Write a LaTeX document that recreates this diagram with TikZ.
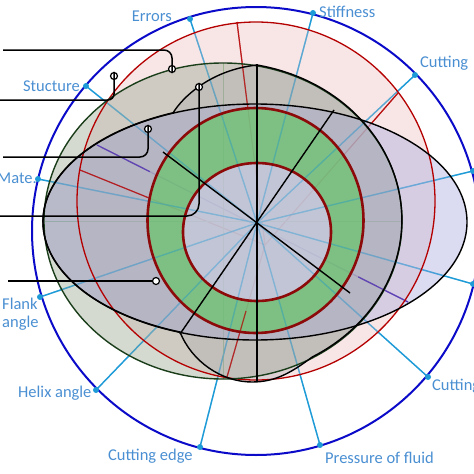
\documentclass[tikz,border=0pt]{standalone}
\usepackage{fontspec}
\usetikzlibrary{calc}
\setmainfont{Carlito}
\definecolor{spokeblue}{RGB}{30,155,215}
\definecolor{lblblue}{RGB}{74,143,210}
\definecolor{circblue}{RGB}{10,10,200}
\definecolor{redline}{RGB}{180,0,0}
\definecolor{thickred}{RGB}{140,10,10}
\definecolor{dkgreen}{RGB}{26,61,26}
\definecolor{pinkfill}{RGB}{240,200,200}
\definecolor{greyfill}{RGB}{160,172,150}
\definecolor{lavfill}{RGB}{176,176,224}
\definecolor{tallfill}{RGB}{160,160,170}
\definecolor{annfill}{RGB}{90,200,90}
\definecolor{discfill}{RGB}{205,212,230}
\definecolor{purp}{RGB}{80,48,176}
\definecolor{axgreen}{RGB}{90,180,95}
\begin{document}
\begin{tikzpicture}[x=1pt,y=-1pt,
  spoke/.style={draw=spokeblue, line width=1.4pt},
  dot/.style={circle, fill=spokeblue, inner sep=0pt, minimum size=6pt},
  lbl/.style={text=lblblue, font=\fontsize{16.5}{18}\selectfont, inner sep=0pt},
  ring/.style={circle, draw=black, fill=white, line width=1.2pt, inner sep=0pt, minimum size=7pt},
  leader/.style={draw=black, line width=1.5pt},
  blackax/.style={draw=black, line width=1.4pt},
  redax/.style={draw=redline, line width=1.2pt},
  purpax/.style={draw=purp, line width=1.3pt},
  greenax/.style={draw=axgreen, line width=1pt}]
\useasboundingbox (0,0) rectangle (474,474);
\clip (0,0) rectangle (474,474);

% centres and end points
\coordinate (O) at (257,223);
\coordinate (Or) at (265,245);
\coordinate (p1) at (190,19);
\coordinate (p2) at (313,13);
\coordinate (p3) at (415,75);
\coordinate (p4) at (473,171);
\coordinate (p5) at (473,284);
\coordinate (p6) at (428,377);
\coordinate (p7) at (320,445);
\coordinate (p8) at (200,447);
\coordinate (p9) at (96,390);
\coordinate (p10) at (40,297);
\coordinate (p11) at (38,179);
\coordinate (p12) at (86,86);

% spokes under the fills
\foreach \p in {p1,p2,p3,p4,p5,p6,p7,p8,p9,p10,p11,p12}
  \draw[spoke] (O) -- (\p);
\coordinate (r1) at (237,22);
\coordinate (r2) at (398,93);
\coordinate (r3) at (80,170);
\coordinate (r4) at (227,377);
\foreach \r in {r1,r2,r3,r4}
  \draw[redax] (Or) -- (\r);
\coordinate (q1) at (97,145);
\coordinate (q2) at (408,302);
\draw[purpax] (q1) -- (q2);
\coordinate (g1) at (45,221);
\coordinate (g2) at (402,221);
\coordinate (g3) at (223,63);
\coordinate (g4) at (223,379);
\draw[greenax] (g1) -- (g2);
\draw[greenax] (g3) -- (g4);

% fills
\fill[pinkfill, fill opacity=0.45] (256,201) circle[radius=179];
\fill[greyfill, fill opacity=0.45] (223,221) ellipse[x radius=179, y radius=158];
\fill[lavfill, fill opacity=0.45] (255,222) ellipse[x radius=212, y radius=118];
\def\tallpath{(173,113) .. controls (182,98) and (210,70) .. (257,65)
  arc[start angle=-79, end angle=60, x radius=179, y radius=158]
  .. controls (292,372) and (276,382) .. (252,382)
  .. controls (222,382) and (192,362) .. (180,332)
  arc[start angle=110.7, end angle=247.2, x radius=212, y radius=118] -- cycle}
\fill[tallfill, fill opacity=0.3] \tallpath;
\fill[annfill, fill opacity=0.6, even odd rule] (255.5,220.5) ellipse[x radius=108, y radius=112.5] (257,232) ellipse[x radius=74, y radius=69];
\fill[discfill, fill opacity=0.55] (257,232) ellipse[x radius=74, y radius=69];

% spokes seen through the fills
\foreach \p in {p1,p2,p3,p4,p5,p6,p7,p8,p9,p10,p11,p12}
  \draw[spoke, draw opacity=0.35] (O) -- (\p);
\coordinate (r1i) at ($(r1)!0.39!(Or)$);
\coordinate (r2i) at ($(r2)!0.2!(Or)$);
\coordinate (r3i) at ($(r3)!0.37!(Or)$);
\coordinate (r4i) at ($(r4)!0.5!(Or)$);
\draw[redax, draw opacity=0.7] (r1) -- (r1i);
\draw[redax, draw opacity=0.8] (r2) -- (r2i);
\draw[redax, draw opacity=0.8] (r3) -- (r3i);
\draw[redax, draw opacity=0.7] (r4) -- (r4i);
\coordinate (q1i) at ($(q1)!0.17!(q2)$);
\coordinate (q2i) at ($(q1)!0.84!(q2)$);
\draw[purpax, draw opacity=0.8] (q1) -- (q1i);
\draw[purpax, draw opacity=0.8] (q2i) -- (q2);

% outlines
\draw[redline, line width=1.3pt] (256,201) circle[radius=179];
\draw[dkgreen, line width=1.4pt] (223,221) ellipse[x radius=179, y radius=158];
\draw[black, line width=1.4pt] (255,222) ellipse[x radius=212, y radius=118];
\draw[black, line width=1.4pt] \tallpath;
\draw[thickred, line width=2.6pt] (255.5,220.5) ellipse[x radius=108, y radius=112.5];
\draw[thickred, line width=2.6pt] (257,232) ellipse[x radius=74, y radius=69];

% black axes
\coordinate (b1) at (257,64);
\coordinate (b2) at (257,382);
\coordinate (b3) at (334,110);
\coordinate (b4) at (180,334);
\coordinate (b5) at (163,152);
\coordinate (b6) at (350,293);
\draw[blackax] (b1) -- (b2);
\draw[blackax] (b3) -- (b4);
\draw[blackax] (b5) -- (b6);

% outer circle, dots, labels
\draw[circblue, line width=2pt] (256,231) circle[radius=224];
\foreach \p in {p1,p2,p3,p4,p5,p6,p7,p8,p9,p10,p11,p12}
  \node[dot] (n\p) at (\p) {};
\node[lbl, anchor=base east] (t1) at (172,21) {Errors};
\node[lbl, anchor=base west] (t2) at (319,17) {Stiffness};
\node[lbl, anchor=base west] (t3) at (420,67) {Cutting};
\node[lbl, anchor=base west] (t6) at (432,390) {Cutting};
\node[lbl, anchor=base west] (t7) at (325,463) {Pressure of fluid};
\node[lbl, anchor=base west] (t8) at (108,460) {Cutting edge};
\node[lbl, anchor=base west] (t9) at (18,397.5) {Helix angle};
\node[lbl, anchor=base west] (t10a) at (2,309.5) {Flank};
\node[lbl, anchor=base west] (t10b) at (2,327) {angle};
\node[lbl, anchor=base east] (t11) at (37,183) {Mate.};
\node[lbl, anchor=base east] (t12) at (80,91.5) {Stucture};

% leaders
\node[ring] (k1) at (172,69) {};
\node[ring] (k2) at (114,76) {};
\node[ring] (k3) at (148,129) {};
\node[ring] (k4) at (199,87) {};
\node[ring] (k5) at (156,281) {};
\coordinate (s1) at (3,50);
\coordinate (s2) at (0,100);
\coordinate (s3) at (3,157);
\coordinate (s4) at (0,216);
\coordinate (s5) at (8,281);
\draw[leader, rounded corners=8pt] (s1) -| (k1.south);
\draw[leader, rounded corners=6pt] (s2) -| (k2.north);
\draw[leader, rounded corners=8pt] (s3) -| (k3.north);
\draw[leader, rounded corners=12pt] (s4) -| (k4.north);
\draw[leader] (s5) -- (k5.west);
\end{tikzpicture}
\end{document}
